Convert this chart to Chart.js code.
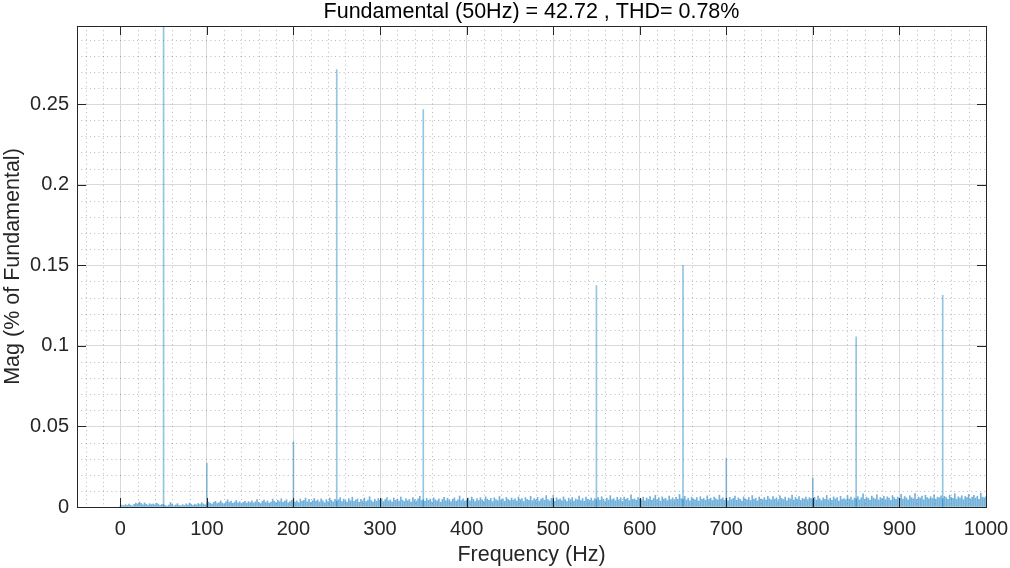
<!DOCTYPE html>
<html>
<head>
<meta charset="utf-8">
<script src="https://cdn.jsdelivr.net/npm/chart.js@4.4.1/dist/chart.umd.min.js"></script>
<style>
html, body { margin: 0; padding: 0; background: #fff; }
#wrap { width: 1010px; height: 568px; }
</style>
</head>
<body>
<div id="wrap"><canvas id="fftChart" width="1010" height="568"></canvas></div>
<script>
// FFT spectrum of the measured signal, in % of the fundamental

const titleText = 'Fundamental (50Hz) = 42.72 , THD= 0.78%';
const xLabel = 'Frequency (Hz)';
const yLabel = 'Mag (% of Fundamental)';

const xTicks = [0, 100, 200, 300, 400, 500, 600, 700, 800, 900, 1000];
const yTicks = [0, 0.05, 0.1, 0.15, 0.2, 0.25];

// harmonic peaks (the fundamental runs off the top of the axes)
const harmonicFreqs = [50, 100, 200, 250, 350, 500, 550, 650, 700, 800, 850, 950];
const harmonicMags = [100, 0.0272, 0.0404, 0.2714, 0.2467, 0.0073, 0.1374, 0.1500, 0.0301, 0.0179, 0.1056, 0.1314];

// noise floor, one value per 2 Hz bin from 0 to 1000 Hz
const binStep = 2;
const noiseMags = [
  .0005,.0012,.0008,.0015,.0009,.0018,.0011,.0007,.0016,.0024,.0019,.0031,.0022,.0014,.0026,.0017,.0012,.0021,.0015,.0019,.0013,.0024,.0018,.0011,.0016,
  .0014,.0009,.0006,.0012,.0028,.0017,.0008,.0013,.0021,.0011,.0007,.0015,.0009,.0019,.0012,.0024,.0016,.0010,.0018,.0013,.0022,.0015,.0027,.0019,.0014,
  .0020,.0031,.0024,.0018,.0029,.0035,.0022,.0027,.0038,.0025,.0019,.0032,.0045,.0028,.0036,.0023,.0030,.0041,.0026,.0033,.0021,.0029,.0037,.0024,.0034,
  .0027,.0039,.0025,.0032,.0046,.0029,.0021,.0035,.0043,.0028,.0038,.0024,.0031,.0049,.0036,.0027,.0042,.0033,.0051,.0029,.0037,.0045,.0026,.0034,.0041,
  .0044,.0031,.0038,.0027,.0049,.0035,.0042,.0056,.0033,.0047,.0029,.0039,.0053,.0036,.0044,.0031,.0050,.0038,.0027,.0046,.0034,.0055,.0041,.0032,.0048,
  .0037,.0045,.0058,.0033,.0049,.0041,.0030,.0052,.0039,.0061,.0035,.0044,.0050,.0029,.0047,.0038,.0056,.0034,.0043,.0064,.0040,.0031,.0048,.0036,.0053,
  .0042,.0051,.0033,.0046,.0059,.0038,.0044,.0030,.0055,.0041,.0049,.0036,.0062,.0043,.0034,.0052,.0039,.0047,.0031,.0058,.0045,.0037,.0050,.0066,.0040,
  .0046,.0035,.0053,.0041,.0049,.0032,.0057,.0044,.0038,.0051,.0030,.0047,.0060,.0039,.0054,.0042,.0033,.0048,.0056,.0036,.0045,.0068,.0040,.0050,.0037,
  .0043,.0055,.0038,.0061,.0047,.0034,.0052,.0040,.0058,.0045,.0036,.0063,.0049,.0041,.0054,.0033,.0057,.0046,.0039,.0065,.0044,.0051,.0035,.0059,.0048,
  .0040,.0056,.0043,.0050,.0037,.0062,.0045,.0053,.0034,.0058,.0047,.0041,.0066,.0039,.0052,.0044,.0060,.0036,.0049,.0055,.0042,.0071,.0046,.0038,.0054,
  .0048,.0035,.0057,.0044,.0051,.0039,.0063,.0046,.0033,.0055,.0041,.0059,.0037,.0050,.0045,.0067,.0040,.0053,.0036,.0061,.0047,.0042,.0056,.0038,.0052,
  .0045,.0058,.0041,.0064,.0049,.0037,.0055,.0043,.0070,.0046,.0052,.0039,.0060,.0044,.0057,.0035,.0062,.0048,.0054,.0040,.0075,.0047,.0051,.0042,.0059,
  .0050,.0044,.0061,.0038,.0056,.0047,.0065,.0041,.0053,.0072,.0045,.0058,.0036,.0063,.0049,.0054,.0040,.0068,.0046,.0057,.0043,.0060,.0048,.0078,.0052,
  .0047,.0066,.0043,.0055,.0039,.0061,.0050,.0045,.0058,.0037,.0064,.0048,.0053,.0042,.0069,.0046,.0056,.0040,.0062,.0051,.0044,.0073,.0049,.0057,.0041,
  .0055,.0039,.0060,.0046,.0053,.0068,.0042,.0057,.0048,.0036,.0063,.0050,.0044,.0059,.0040,.0071,.0047,.0054,.0038,.0062,.0049,.0045,.0058,.0043,.0066,
  .0051,.0044,.0064,.0048,.0057,.0040,.0069,.0053,.0046,.0061,.0038,.0056,.0050,.0074,.0043,.0059,.0047,.0065,.0041,.0054,.0049,.0062,.0045,.0058,.0052,
  .0046,.0060,.0043,.0067,.0051,.0039,.0057,.0048,.0072,.0044,.0055,.0041,.0063,.0050,.0058,.0037,.0066,.0047,.0053,.0045,.0070,.0049,.0061,.0042,.0056,
  .0050,.0064,.0045,.0058,.0082,.0047,.0061,.0053,.0043,.0068,.0056,.0049,.0075,.0044,.0059,.0052,.0066,.0046,.0063,.0055,.0041,.0071,.0057,.0048,.0062,
  .0054,.0079,.0049,.0065,.0056,.0044,.0070,.0058,.0051,.0084,.0047,.0062,.0055,.0067,.0045,.0073,.0059,.0050,.0064,.0053,.0076,.0048,.0061,.0057,.0069,
  .0052,.0066,.0058,.0047,.0074,.0060,.0054,.0081,.0049,.0063,.0056,.0070,.0046,.0065,.0059,.0078,.0051,.0062,.0072,.0055,.0067,.0048,.0086,.0061,.0057,
  .0064
];

const xMin = -50, xMax = 1000;
const yMin = 0, yMax = 0.2985;
const xMinorStep = 20, yMinorStep = 0.01;

const fontFamily = '"Liberation Sans", Arial, Helvetica, sans-serif';
const textColor = '#262626';

const noisePoints = noiseMags.map((v, i) => ({ x: i * binStep, y: v }));
const harmonicPoints = harmonicFreqs.map((f, i) => ({ x: f, y: harmonicMags[i] }));

// MATLAB-style box: dotted minor grid, inward ticks on all four sides, title over the axes
const matlabAxes = {
    id: 'matlabAxes',
    beforeDatasetsDraw(chart) {
        const { ctx, chartArea: a, scales: { x, y } } = chart;
        ctx.save();
        ctx.strokeStyle = 'rgba(0,0,0,0.28)';
        ctx.lineWidth = 1;
        ctx.setLineDash([1, 3.3]);
        for (let v = Math.ceil(xMin / xMinorStep) * xMinorStep; v <= xMax; v += xMinorStep) {
            if (v % 100 === 0) continue;
            const px = Math.round(x.getPixelForValue(v)) + 0.5;
            ctx.beginPath();
            ctx.moveTo(px, a.top);
            ctx.lineTo(px, a.bottom);
            ctx.stroke();
        }
        for (let k = 1; k * yMinorStep < yMax; k++) {
            if (k % 5 === 0) continue;
            const py = Math.round(y.getPixelForValue(k * yMinorStep)) + 0.5;
            ctx.beginPath();
            ctx.moveTo(a.left, py);
            ctx.lineTo(a.right, py);
            ctx.stroke();
        }
        ctx.restore();
    },
    afterDatasetsDraw(chart) {
        const { ctx, chartArea: a, scales: { x, y } } = chart;
        const tick = 9;
        ctx.save();
        ctx.strokeStyle = textColor;
        ctx.lineWidth = 1;
        ctx.beginPath();
        xTicks.forEach(v => {
            const px = Math.round(x.getPixelForValue(v)) + 0.5;
            ctx.moveTo(px, a.bottom);
            ctx.lineTo(px, a.bottom - tick);
            ctx.moveTo(px, a.top);
            ctx.lineTo(px, a.top + tick);
        });
        yTicks.forEach(v => {
            const py = Math.round(y.getPixelForValue(v)) + 0.5;
            ctx.moveTo(a.left, py);
            ctx.lineTo(a.left + tick, py);
            ctx.moveTo(a.right, py);
            ctx.lineTo(a.right - tick, py);
        });
        ctx.stroke();
        ctx.strokeRect(Math.round(a.left) + 0.5, Math.round(a.top) + 0.5,
            Math.round(a.right - a.left), Math.round(a.bottom - a.top));
        ctx.restore();
    },
    afterDraw(chart) {
        const { ctx, chartArea: a } = chart;
        ctx.save();
        ctx.fillStyle = '#000';
        ctx.font = `21.5px ${fontFamily}`;
        ctx.textAlign = 'center';
        ctx.textBaseline = 'middle';
        ctx.fillText(titleText, (a.left + a.right) / 2, 12);
        ctx.restore();
    }
};

const ctx = document.getElementById('fftChart');
new Chart(ctx, {
    type: 'bar',
    data: {
        datasets: [{
            label: 'noise',
            data: noisePoints,
            backgroundColor: 'rgba(0, 114, 189, 0.55)',
            barThickness: 1,
            grouped: false,
            clip: 0
        }, {
            label: 'harmonics',
            data: harmonicPoints,
            backgroundColor: 'rgba(0, 114, 189, 0.42)',
            barThickness: 1,
            grouped: false,
            clip: 0
        }]
    },
    options: {
        responsive: false,
        animation: false,
        layout: { padding: { top: 26, right: 24, left: 0, bottom: 0 } },
        scales: {
            x: {
                type: 'linear',
                min: xMin,
                max: xMax,
                offset: false,
                afterBuildTicks: scale => { scale.ticks = xTicks.map(v => ({ value: v })); },
                afterFit: scale => {
                    scale.height = 61;
                    scale.paddingLeft = 0;
                    scale.paddingRight = 0;
                },
                grid: { color: '#dadada', drawTicks: false, offset: false },
                border: { display: false },
                ticks: {
                    padding: 10,
                    color: textColor,
                    font: { family: fontFamily, size: 20 },
                    maxRotation: 0,
                    callback: v => String(v)
                },
                title: {
                    display: true,
                    text: xLabel,
                    color: textColor,
                    font: { family: fontFamily, size: 21.5 },
                    padding: { top: 4, bottom: 0 }
                }
            },
            y: {
                min: yMin,
                max: yMax,
                afterBuildTicks: scale => { scale.ticks = yTicks.map(v => ({ value: v })); },
                afterFit: scale => {
                    scale.width = 77;
                    scale.paddingTop = 0;
                    scale.paddingBottom = 0;
                },
                grid: { color: '#dadada', drawTicks: false },
                border: { display: false },
                ticks: {
                    padding: 8,
                    color: textColor,
                    font: { family: fontFamily, size: 20 },
                    callback: v => String(v)
                },
                title: {
                    display: true,
                    text: yLabel,
                    color: textColor,
                    font: { family: fontFamily, size: 21.5 },
                    padding: { top: 0, bottom: 0 }
                }
            }
        },
        plugins: {
            legend: { display: false },
            tooltip: { enabled: false }
        }
    },
    plugins: [matlabAxes]
});
</script>
</body>
</html>
